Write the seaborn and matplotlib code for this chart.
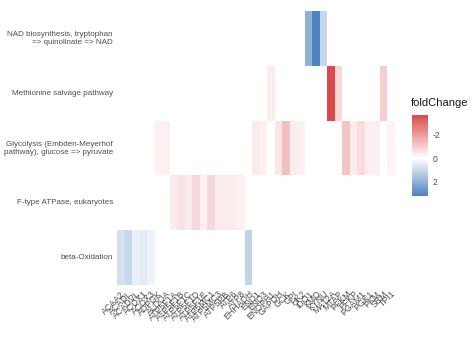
import numpy as np
import pandas as pd
import matplotlib
matplotlib.use("Agg")
import matplotlib.pyplot as plt
from matplotlib.colors import LinearSegmentedColormap
import seaborn as sns

genes = ["ACAA2", "ACADL", "ACADVL", "ACOX1", "ACOX3", "ADPGK", "ALDOA",
         "ATP5F1A", "ATP5F1B", "ATP5F1C", "ATP5F1D", "ATP5F1E", "ATP5MC1",
         "ATP5MC3", "ATP5PB", "ATP6", "ATP8", "EHHADH", "ENO1", "ENO3",
         "ENOPH1", "GAPDH", "GCK", "GPI", "HK2", "IDO1", "KMO", "KYNU",
         "MAT2A", "MTAP", "PFKM", "PFKP", "PGAM1", "PGK1", "PKM", "SRM", "TPI1"]

pathways = ["NAD biosynthesis, tryptophan\n=> quinolinate => NAD",
            "Methionine salvage pathway",
            "Glycolysis (Embden-Meyerhof\npathway), glucose => pyruvate",
            "F-type ATPase, eukaryotes",
            "beta-Oxidation"]

nad_genes = ["IDO1", "KMO", "KYNU"]
nad_fc = [2.0, 3.2, 1.0]

met_genes = ["ENOPH1", "MAT2A", "MTAP", "SRM"]
met_fc = [-0.4, -3.7, -0.8, -1.0]

gly_genes = ["ADPGK", "ALDOA", "ENO1", "ENO3", "GAPDH", "GCK", "GPI", "HK2",
             "PFKM", "PFKP", "PGAM1", "PGK1", "PKM", "TPI1"]
gly_fc = [-0.3, -0.3, -0.4, -0.3, -0.5, -1.3, -0.4, -0.3,
          -1.2, -0.4, -0.7, -0.35, -0.35, -0.2]

atp_genes = ["ATP5F1A", "ATP5F1B", "ATP5F1C", "ATP5F1D", "ATP5F1E",
             "ATP5MC1", "ATP5MC3", "ATP5PB", "ATP6", "ATP8"]
atp_fc = [-0.4, -0.6, -0.4, -0.8, -0.3, -0.8, -0.4, -0.4, -0.4, -0.3]

box_genes = ["ACAA2", "ACADL", "ACADVL", "ACOX1", "ACOX3", "EHHADH"]
box_fc = [0.8, 1.0, 0.4, 0.5, 0.3, 1.1]

groups = [(pathways[0], nad_genes, nad_fc),
          (pathways[1], met_genes, met_fc),
          (pathways[2], gly_genes, gly_fc),
          (pathways[3], atp_genes, atp_fc),
          (pathways[4], box_genes, box_fc)]

rows = []
for pw, gs, vs in groups:
    for g, v in zip(gs, vs):
        rows.append({"pathway": pw, "gene": g, "foldChange": v})
df = pd.DataFrame(rows)
mat = df.pivot(index="pathway", columns="gene", values="foldChange")
mat = mat.reindex(index=pathways, columns=genes)

sns.set_style("white")
plt.rcParams["font.family"] = ["Liberation Sans", "DejaVu Sans"]
plt.rcParams["axes.unicode_minus"] = False

cmap = LinearSegmentedColormap.from_list(
    "rwb", [(0.0, "#DB4B4B"), (0.5, "#FFFFFF"), (1.0, "#3270B8")])

fig = plt.figure(figsize=(4.74, 3.38), dpi=100)
ax = fig.add_axes([117 / 474, 1 - 285 / 338, (395 - 117) / 474, (285 - 11) / 338])
cax = fig.add_axes([412 / 474, 1 - 196 / 338, 16 / 474, 81 / 338])

sns.heatmap(mat, ax=ax, cbar_ax=cax, cmap=cmap, center=0,
            vmin=-3.7, vmax=3.2, linewidths=0,
            xticklabels=True, yticklabels=True,
            cbar_kws={"ticks": [-2, 0, 2]})
ax.set_facecolor("white")
ax.set_xlabel("")
ax.set_ylabel("")
ax.tick_params(axis="both", length=0, pad=3, colors="#4D4D4D")
ax.set_yticks(np.arange(len(pathways)) + 0.5)
ax.set_yticklabels(pathways, rotation=0, fontsize=5.8,
                   ha="right", multialignment="right", color="#4D4D4D")
ax.set_xticks(np.arange(len(genes)) + 0.5)
ax.set_xticklabels(genes, rotation=45, fontsize=6.3,
                   ha="right", va="top", rotation_mode="anchor",
                   color="#4D4D4D")
for s in ax.spines.values():
    s.set_visible(False)

cax.invert_yaxis()
cax.tick_params(length=3, width=0.6, colors="white", labelcolor="#4D4D4D",
                labelsize=6.2, pad=3, direction="in")
cax.tick_params(axis="y", right=True, left=True, labelleft=False, labelright=True)
for s in cax.spines.values():
    s.set_visible(False)
fig.text(411 / 474, 1 - 103 / 338, "foldChange", fontsize=8, color="#1A1A1A",
         ha="left", va="center")

fig.savefig("out.png", dpi=100)
